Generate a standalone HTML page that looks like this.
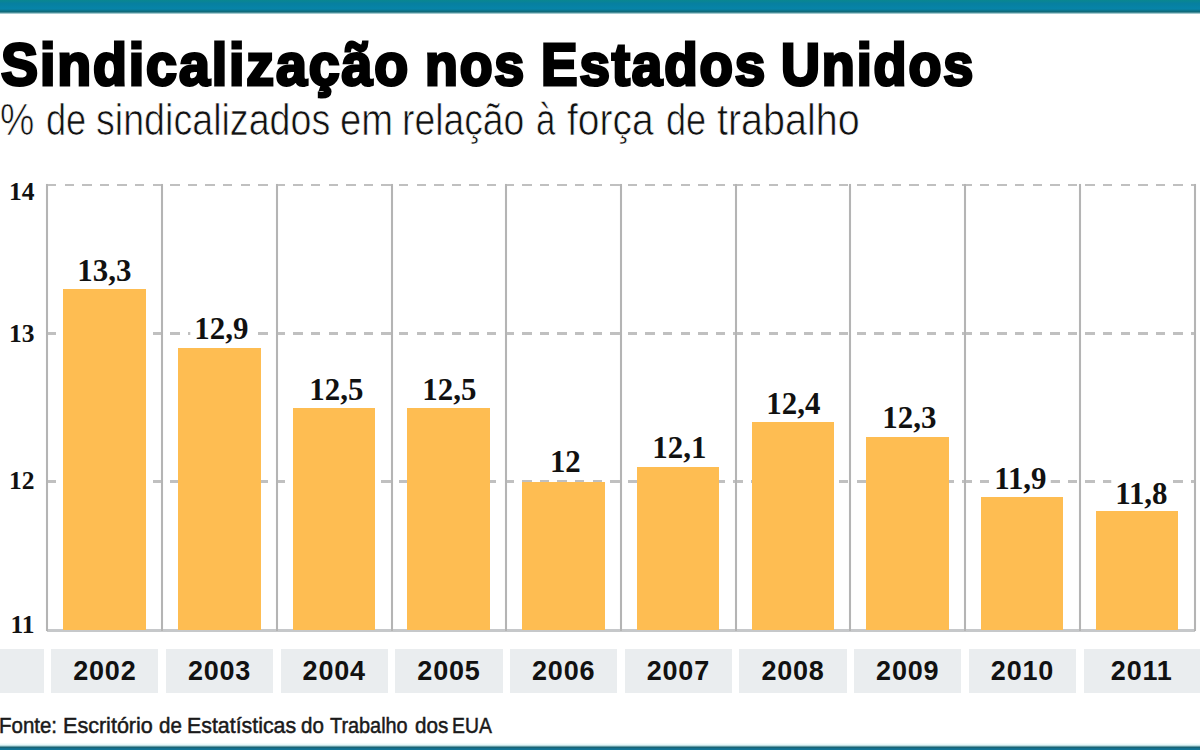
<!DOCTYPE html>
<html><head><meta charset="utf-8">
<style>
html,body{margin:0;padding:0;}
body{width:1200px;height:750px;position:relative;overflow:hidden;background:#fff;font-family:"Liberation Sans",sans-serif;}
.topbar{position:absolute;left:0;top:0;width:1200px;height:14.5px;background:linear-gradient(180deg,#0a878f 0px,#0780a0 3.5px,#0784a8 9px,#0e6a7a 11.6px,#5a98a2 12.8px,#d8eef0 14px,#ffffff 14.5px);}
.botbar{position:absolute;left:0;top:742.5px;width:1200px;height:7.5px;background:linear-gradient(180deg,#fbfefe 0px,#e2f7f8 2px,#9cc4ca 3px,#175f6e 4.2px,#126f8e 5.5px,#0f7b9e 7.5px);}
.tw{position:absolute;font-weight:bold;font-size:58.4px;line-height:80px;color:#000;white-space:nowrap;transform-origin:0 0;-webkit-text-stroke:3.0px #000;letter-spacing:2.0px;}
.sw{position:absolute;font-size:43.6px;line-height:50px;color:#111;-webkit-text-stroke:0.7px #fff;white-space:nowrap;transform-origin:0 0;}
.rw{position:absolute;font-size:22.3px;line-height:30px;color:#1a1a1a;-webkit-text-stroke:0.5px #1a1a1a;white-space:nowrap;transform-origin:0 0;}
.dash{position:absolute;width:1148px;height:2.4px;background:repeating-linear-gradient(90deg,#c0c0c0 0,#c0c0c0 9.4px,transparent 9.4px,transparent 17.6px);}
.base{position:absolute;left:47px;width:1148px;height:2.5px;background:#c6c8ca;}
.vl{position:absolute;top:184px;height:447px;width:2px;background:#b4b4b4;box-shadow:0 0 0.8px #d4d4d4;}
.bar{position:absolute;width:82.5px;background:#febd52;}
.val{position:absolute;width:114.7px;text-align:center;font-family:"Liberation Serif",serif;font-weight:bold;font-size:32.2px;line-height:40px;color:#111;letter-spacing:0px;transform:scaleX(0.96);-webkit-text-stroke:0px #111;}
.val span{background:#fff;padding:0 4px;}
.yb{position:absolute;top:648.8px;height:44px;background:#eaedef;text-align:center;font-weight:bold;font-size:27px;line-height:45.2px;color:#111;letter-spacing:0.8px;}
.yl{position:absolute;left:0px;width:34.5px;text-align:right;font-family:"Liberation Serif",serif;font-weight:bold;font-size:25.5px;line-height:40px;color:#111;-webkit-text-stroke:0px #111;}
</style></head><body>
<div class="topbar"></div>
<span class="tw" style="left:1.20px;top:25.3px;transform:scaleX(0.9502)">Sindicalização</span>
<span class="tw" style="left:425.26px;top:25.3px;transform:scaleX(0.9205)">nos</span>
<span class="tw" style="left:541.02px;top:25.3px;transform:scaleX(0.9377)">Estados</span>
<span class="tw" style="left:781.05px;top:25.3px;transform:scaleX(0.9249)">Unidos</span>
<span class="sw" style="left:0.23px;top:95.0px;transform:scaleX(0.8857)">%</span>
<span class="sw" style="left:45.84px;top:95.0px;transform:scaleX(0.8295)">de</span>
<span class="sw" style="left:96.27px;top:95.0px;transform:scaleX(0.8633)">sindicalizados</span>
<span class="sw" style="left:339.50px;top:95.0px;transform:scaleX(0.8755)">em</span>
<span class="sw" style="left:402.43px;top:95.0px;transform:scaleX(0.8551)">relação</span>
<span class="sw" style="left:536.40px;top:95.0px;transform:scaleX(0.8000)">à</span>
<span class="sw" style="left:567.11px;top:95.0px;transform:scaleX(0.8932)">força</span>
<span class="sw" style="left:666.35px;top:95.0px;transform:scaleX(0.8273)">de</span>
<span class="sw" style="left:717.09px;top:95.0px;transform:scaleX(0.9058)">trabalho</span>
<div class="dash" style="top:183.80px;left:47px"></div>
<div class="dash" style="top:332.13px;left:47px"></div>
<div class="dash" style="top:480.47px;left:47px"></div>
<div class="base" style="top:629.00px"></div>
<div class="vl" style="left:46px"></div>
<div class="vl" style="left:161px"></div>
<div class="vl" style="left:276px"></div>
<div class="vl" style="left:391px"></div>
<div class="vl" style="left:505px"></div>
<div class="vl" style="left:620px"></div>
<div class="vl" style="left:735px"></div>
<div class="vl" style="left:849px"></div>
<div class="vl" style="left:964px"></div>
<div class="vl" style="left:1079px"></div>
<div class="vl" style="left:1194px"></div>
<div class="bar" style="left:63.30px;top:288.83px;height:341.17px"></div>
<div class="val" style="left:46.90px;top:249.73px"><span>13,3</span></div>
<div class="bar" style="left:178.00px;top:348.17px;height:281.83px"></div>
<div class="val" style="left:163.70px;top:308.47px"><span>12,9</span></div>
<div class="bar" style="left:292.70px;top:407.50px;height:222.50px"></div>
<div class="val" style="left:278.55px;top:368.70px"><span>12,5</span></div>
<div class="bar" style="left:407.40px;top:407.50px;height:222.50px"></div>
<div class="val" style="left:392.00px;top:368.50px"><span>12,5</span></div>
<div class="bar" style="left:522.10px;top:481.67px;height:148.33px"></div>
<div class="val" style="left:508.45px;top:440.97px"><span>12</span></div>
<div class="bar" style="left:636.80px;top:466.83px;height:163.17px"></div>
<div class="val" style="left:622.30px;top:427.13px"><span>12,1</span></div>
<div class="bar" style="left:751.50px;top:422.33px;height:207.67px"></div>
<div class="val" style="left:735.65px;top:383.23px"><span>12,4</span></div>
<div class="bar" style="left:866.20px;top:437.17px;height:192.83px"></div>
<div class="val" style="left:852.05px;top:397.17px"><span>12,3</span></div>
<div class="bar" style="left:980.90px;top:496.50px;height:133.50px"></div>
<div class="val" style="left:963.35px;top:457.50px"><span>11,9</span></div>
<div class="bar" style="left:1095.60px;top:511.33px;height:118.67px"></div>
<div class="val" style="left:1083.85px;top:472.83px"><span>11,8</span></div>
<div class="yb" style="left:0px;width:43.9px"></div>
<div class="yb" style="left:51.20px;width:107.30px"><span>2002</span></div>
<div class="yb" style="left:165.90px;width:107.30px"><span>2003</span></div>
<div class="yb" style="left:280.60px;width:107.30px"><span>2004</span></div>
<div class="yb" style="left:395.30px;width:107.30px"><span>2005</span></div>
<div class="yb" style="left:510.00px;width:107.30px"><span>2006</span></div>
<div class="yb" style="left:624.70px;width:107.30px"><span>2007</span></div>
<div class="yb" style="left:739.40px;width:107.30px"><span>2008</span></div>
<div class="yb" style="left:854.10px;width:107.30px"><span>2009</span></div>
<div class="yb" style="left:968.80px;width:107.30px"><span>2010</span></div>
<div class="yb" style="left:1083.50px;width:116.50px"><span>2011</span></div>
<div class="yl" style="top:171.80px">14</div>
<div class="yl" style="top:314.20px">13</div>
<div class="yl" style="top:460.70px">12</div>
<div class="yl" style="top:604.90px">11</div>
<span class="rw" style="left:-0.59px;top:710.9px;transform:scaleX(0.9178)">Fonte:</span>
<span class="rw" style="left:63.07px;top:710.9px;transform:scaleX(0.9667)">Escritório</span>
<span class="rw" style="left:158.68px;top:710.9px;transform:scaleX(0.9217)">de</span>
<span class="rw" style="left:186.84px;top:710.9px;transform:scaleX(0.9572)">Estatísticas</span>
<span class="rw" style="left:300.78px;top:710.9px;transform:scaleX(0.9217)">do</span>
<span class="rw" style="left:330.40px;top:710.9px;transform:scaleX(0.8907)">Trabalho</span>
<span class="rw" style="left:415.08px;top:710.9px;transform:scaleX(0.9235)">dos</span>
<span class="rw" style="left:452.46px;top:710.9px;transform:scaleX(0.8682)">EUA</span>
<div class="botbar"></div>
</body></html>
